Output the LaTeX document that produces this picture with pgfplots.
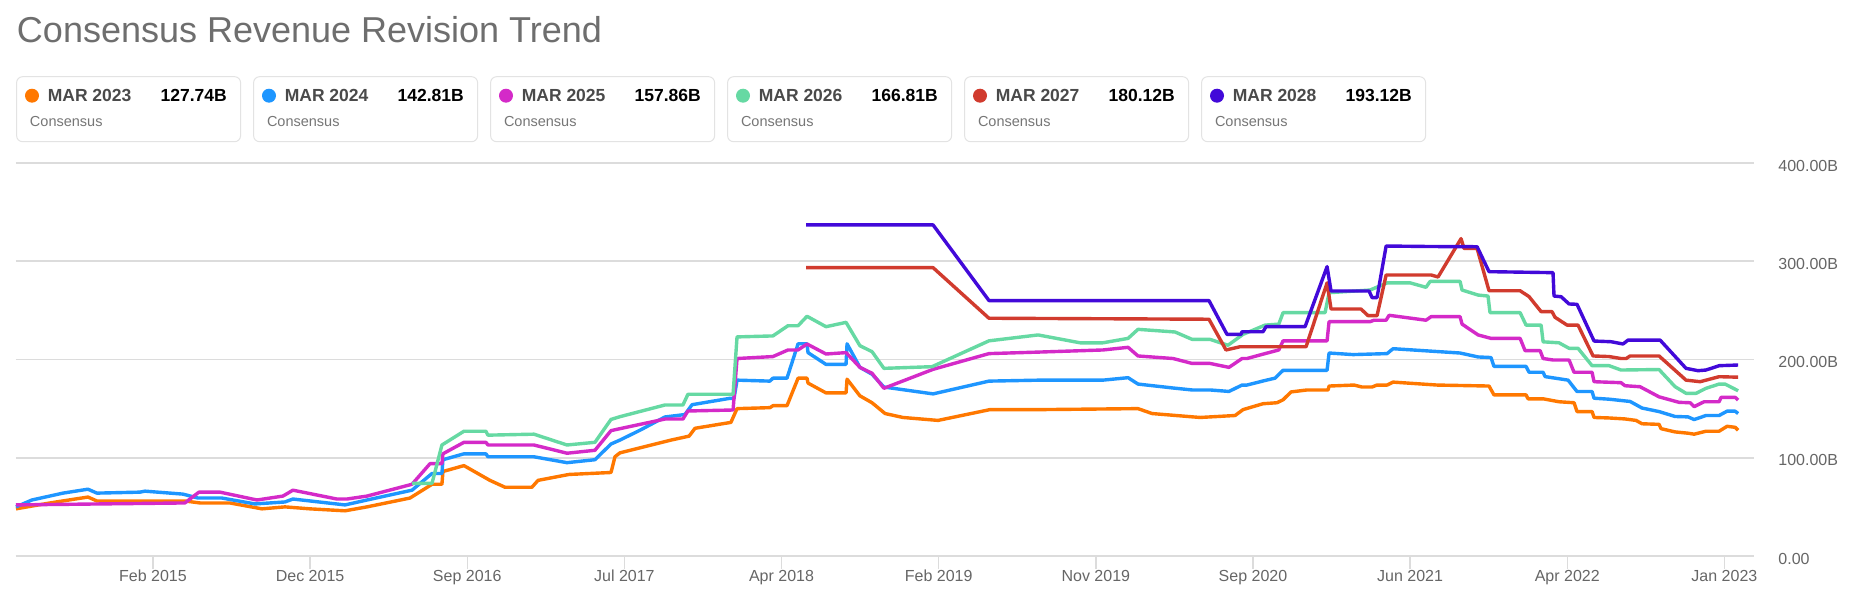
\documentclass[border=0pt]{standalone}
\usepackage{fontspec}
\setmainfont{Liberation Sans}
\usepackage{pgfplots}
\pgfplotsset{compat=1.18}

\definecolor{c23}{HTML}{FF7800}
\definecolor{c24}{HTML}{1E96FF}
\definecolor{c25}{HTML}{D42AC8}
\definecolor{c26}{HTML}{66D9A3}
\definecolor{c27}{HTML}{D13B2E}
\definecolor{c28}{HTML}{4209D9}
\definecolor{gridc}{HTML}{DCDCDC}
\definecolor{labc}{HTML}{666666}
\definecolor{titlec}{HTML}{6E6E6E}
\definecolor{namec}{HTML}{4A4A4A}
\definecolor{subc}{HTML}{767676}

\begin{document}
\begin{tikzpicture}[x=1pt,y=1pt]
\path[use as bounding box, fill=white] (0,0) rectangle (927,303.5);

\node[anchor=base west, inner sep=0pt, text=titlec, font=\fontsize{18}{20}\selectfont]
  at (8.3,282.15) {Consensus Revenue Revision Trend};

% legend cards
\foreach \i/\col/\nm/\val in {0/c23/MAR 2023/127.74B, 1/c24/MAR 2024/142.81B,
    2/c25/MAR 2025/157.86B, 3/c26/MAR 2026/166.81B, 4/c27/MAR 2027/180.12B,
    5/c28/MAR 2028/193.12B}{
  \pgfmathsetmacro{\bx}{8.3+118.5*\i}
  \draw[gray!22, line width=0.5pt, rounded corners=3pt, fill=white]
    (\bx,232.65) rectangle ++(112,32.5);
  \fill[\col] (\bx+7.7,255.65) circle (3.5);
  \node[anchor=base west, inner sep=0pt, text=namec,
    font=\bfseries\fontsize{8.75}{10}\selectfont] at (\bx+15.4,252.65) {\nm};
  \node[anchor=base east, inner sep=0pt, text=black,
    font=\bfseries\fontsize{8.75}{10}\selectfont] at (\bx+105.3,252.65) {\val};
  \node[anchor=base west, inner sep=0pt, text=subc,
    font=\fontsize{7.25}{8.5}\selectfont] at (\bx+6.5,240.15) {Consensus};
}

\begin{axis}[
  at={(8pt,25.5pt)}, anchor=south west,
  scale only axis, width=869pt, height=196.5pt,
  xmin=4.72, xmax=109.79, ymin=0, ymax=400,
  axis line style={draw=none},
  ymajorgrids, grid style={gridc, line width=0.85pt},
  ytick={0,100,200,300,400},
  yticklabels={0.00,100.00B,200.00B,300.00B,400.00B},
  yticklabel pos=right, ytick pos=right,
  ytick style={draw=none},
  yticklabel style={anchor=west, inner sep=0pt, xshift=5.5pt, yshift=-1.3pt,
    font=\fontsize{8}{9}\selectfont, text=labc},
  xtick={13,22.5,32,41.5,51,60.5,70,79.5,89,98.5,108},
  xticklabels={Feb 2015,Dec 2015,Sep 2016,Jul 2017,Apr 2018,Feb 2019,
    Nov 2019,Sep 2020,Jun 2021,Apr 2022,Jan 2023},
  xtick pos=bottom, tick align=outside, major tick length=6.5pt,
  xtick style={draw=gridc, line width=0.7pt},
  xticklabel style={anchor=north, inner sep=0pt, yshift=-0.5pt,
    font=\fontsize{8}{9}\selectfont, text=labc},
  every axis plot/.append style={line width=1.7pt, line join=round, no markers},
  clip=false,
]
% gridline at zero
\addplot[gridc, line width=0.85pt, forget plot] coordinates {(4.72,0) (109.79,0)};

% MAR 2023
\addplot[c23] coordinates {
(4.72,48) (6.77,54) (9.07,60) (9.61,56) (12.82,56) (14.93,56) (15.84,54) (17.65,54)
(19.59,48) (20.98,50) (22.49,48) (24.61,46) (25.94,50) (28.54,59) (29.87,73) (30.47,73)
(30.53,86) (31.80,92) (33.37,77) (34.28,70) (35.91,70) (36.28,77) (38.15,83) (40.69,85)
(40.93,101) (41.23,105) (44.32,118) (45.41,122) (45.77,130) (47.94,136) (48.31,150)
(50.30,151) (50.48,153) (51.33,153) (52.00,181) (52.54,181) (52.60,176) (53.69,166)
(54.90,166) (54.96,180) (55.74,163) (56.47,156) (57.26,145) (58.34,141) (60.46,138)
(63.60,149) (66.63,149) (72.55,150) (73.40,145) (76.30,141) (78.42,143) (78.90,149)
(80.11,155) (80.95,156) (81.32,159) (81.80,167) (82.77,169) (84.04,169) (84.10,173)
(85.61,174) (86.09,172) (86.70,172) (87.00,174) (87.61,174) (87.97,177) (90.63,174)
(93.77,173) (94.07,164) (96.01,164) (96.13,160) (97.04,160) (98.00,157) (98.91,156)
(99.09,147) (100.00,147) (100.12,141) (101.03,140.5) (101.99,139.5) (102.66,138)
(103.02,134.6) (104.05,134) (104.17,129.6) (105.02,126.3) (105.80,125) (106.17,124)
(106.89,127) (107.68,127) (108.16,132) (108.65,131) (108.83,128)
};

% MAR 2024
\addplot[c24] coordinates {
(4.72,50) (5.68,57) (7.56,64) (9.07,68) (9.61,64) (12.21,65) (12.52,66) (14.81,63)
(15.72,59) (17.17,59) (19.17,53) (20.98,55) (21.46,58) (24.61,52) (25.94,57) (28.66,67)
(29.87,84) (30.47,84) (30.53,98) (31.80,104) (33.13,104) (33.25,101) (36.03,101)
(38.03,95) (39.72,98) (40.69,114) (41.23,118) (42.44,128) (43.95,141.5) (45.16,144)
(45.59,154) (47.88,160.5) (48.13,160.5) (48.31,179) (50.30,178) (50.48,181) (51.33,181)
(52.00,216) (52.54,216) (52.60,207) (53.69,195) (54.90,195) (54.96,216) (55.74,192)
(56.47,185) (57.19,172) (60.16,165) (63.54,178) (66.63,179) (70.43,179) (71.95,181.5)
(72.55,175) (74.67,171) (75.82,169) (76.90,169) (78.05,167.5) (78.84,174) (79.14,174)
(80.17,178.4) (80.83,181) (81.32,189) (83.98,189) (84.10,206.6) (85.55,205) (87.61,206)
(87.97,211) (92.02,206.6) (93.11,202.6) (93.89,202) (94.07,193) (96.01,193) (96.19,187)
(97.04,187) (97.16,182.6) (98.55,179) (99.09,167.4) (100.00,167.4) (100.12,160.6)
(101.03,159.6) (102.30,157.3) (103.02,150.6) (104.05,147) (105.02,142) (105.80,141.6)
(106.17,138.9) (106.89,143) (107.68,143) (108.16,147.4) (108.65,147.4) (108.83,145)
};

% MAR 2025
\addplot[c25] coordinates {
(4.72,52) (14.93,54) (15.78,65) (17.05,65) (19.29,57) (20.86,61) (21.46,67) (24.12,58)
(24.73,58) (25.94,61) (28.66,73) (29.75,94) (30.47,94) (30.53,104) (30.96,108)
(31.80,115.7) (33.13,115.7) (33.25,113) (36.03,113) (38.03,104.6) (39.72,107.6)
(40.69,127.6) (41.23,129.6) (43.95,139.4) (45.04,139.4) (45.34,147.6) (48.07,148.6)
(48.31,201) (50.48,203) (51.39,209.7) (52.00,209.7) (52.54,215.8) (53.69,205.6)
(54.90,207) (55.74,192) (56.47,186) (57.19,170.7) (60.16,190) (63.54,206) (66.63,207.6)
(70.43,209.7) (71.95,212.4) (72.55,203.6) (74.67,201) (75.82,196) (76.90,196) (78.05,192)
(78.84,201) (79.14,201) (80.23,206) (81.06,209.7) (81.32,219) (83.98,219) (84.10,238.5)
(86.58,238.5) (86.82,240) (87.55,240) (87.73,245) (89.96,240) (90.27,243.6) (92.02,243.6)
(92.14,236) (93.11,225) (93.89,221.5) (95.65,221.5) (95.95,209) (96.86,209) (97.04,201)
(97.64,199.5) (98.61,199.5) (98.91,187) (100.00,187) (100.12,177.4) (101.75,176.4)
(101.99,173.3) (102.90,172.3) (104.05,162) (105.26,156.4) (105.93,156) (106.17,152)
(106.77,157) (107.68,157) (107.80,161.5) (108.65,161.5) (108.83,158.8)
};

% MAR 2026
\addplot[c26] coordinates {
(28.66,74) (29.87,74) (30.47,113) (31.80,127) (33.13,127) (33.25,123) (36.03,124)
(38.03,113) (39.72,115.7) (40.69,139) (41.23,141.8) (43.95,153.7) (45.04,153.7)
(45.34,164.6) (48.07,164.6) (48.31,223) (50.48,224) (51.39,234.4) (52.00,234.4)
(52.54,244) (53.69,233.4) (54.90,237.8) (55.74,214) (56.47,208) (57.19,191) (60.10,192.7)
(63.54,219) (66.51,225) (69.05,217) (70.43,217) (71.95,221.5) (72.55,230.7) (74.79,228)
(75.82,220.5) (76.90,220.5) (77.99,214.5) (78.90,225.6) (80.23,235) (81.06,236)
(81.32,247.7) (83.86,247.7) (84.10,268) (86.58,270.7) (87.61,278) (89.00,278)
(89.96,273.5) (90.21,279.5) (92.02,279.5) (92.14,270.7) (93.11,265.6) (93.71,264.6)
(93.83,247.7) (95.65,247.7) (96.01,235) (96.92,235) (97.04,218) (98.00,217) (98.61,211.4)
(99.15,211.4) (100.00,193.7) (101.03,193.7) (101.75,189.3) (104.05,189.8) (105.02,172.3)
(105.68,165.6) (106.29,165.6) (106.89,170.7) (107.68,175) (108.04,175) (108.83,168.2)
};

% MAR 2027
\addplot[c27] coordinates {
(52.48,293.5) (60.16,293.5) (63.54,242) (76.84,241) (77.87,209.7) (78.72,213) (82.71,213)
(83.98,278) (84.22,251.4) (86.03,251.4) (86.46,244.6) (87.00,244.6) (87.55,286)
(90.27,286) (90.69,284) (92.08,323) (92.26,313) (93.05,313) (93.77,270) (95.65,270)
(96.19,264) (96.92,248.7) (97.58,248.7) (97.76,243) (98.49,235) (99.15,235)
(100.06,203.6) (101.03,203) (101.75,201) (102.06,201) (102.30,203.6) (104.05,203.6)
(105.68,179) (106.53,177.4) (107.68,182.5) (108.83,182)
};

% MAR 2028
\addplot[c28] coordinates {
(52.48,337) (60.16,337) (63.54,260) (76.84,260) (77.93,225.6) (78.78,225.6) (78.84,228.3)
(80.11,228.3) (80.29,233.4) (82.65,233.4) (83.98,294.5) (84.22,269.7) (86.52,269.7)
(86.70,263) (87.00,263) (87.55,315.5) (90.27,315) (93.05,314.8) (93.77,289.4)
(97.64,288.4) (97.70,264.6) (98.13,263.9) (98.61,256.5) (99.09,256.2) (100.12,218.8)
(101.15,218.1) (101.87,215.8) (102.18,219.8) (104.11,219.8) (105.68,191) (106.41,188.6)
(106.89,189.3) (107.68,193.7) (108.83,194.4)
};
\end{axis}
\end{tikzpicture}
\end{document}
